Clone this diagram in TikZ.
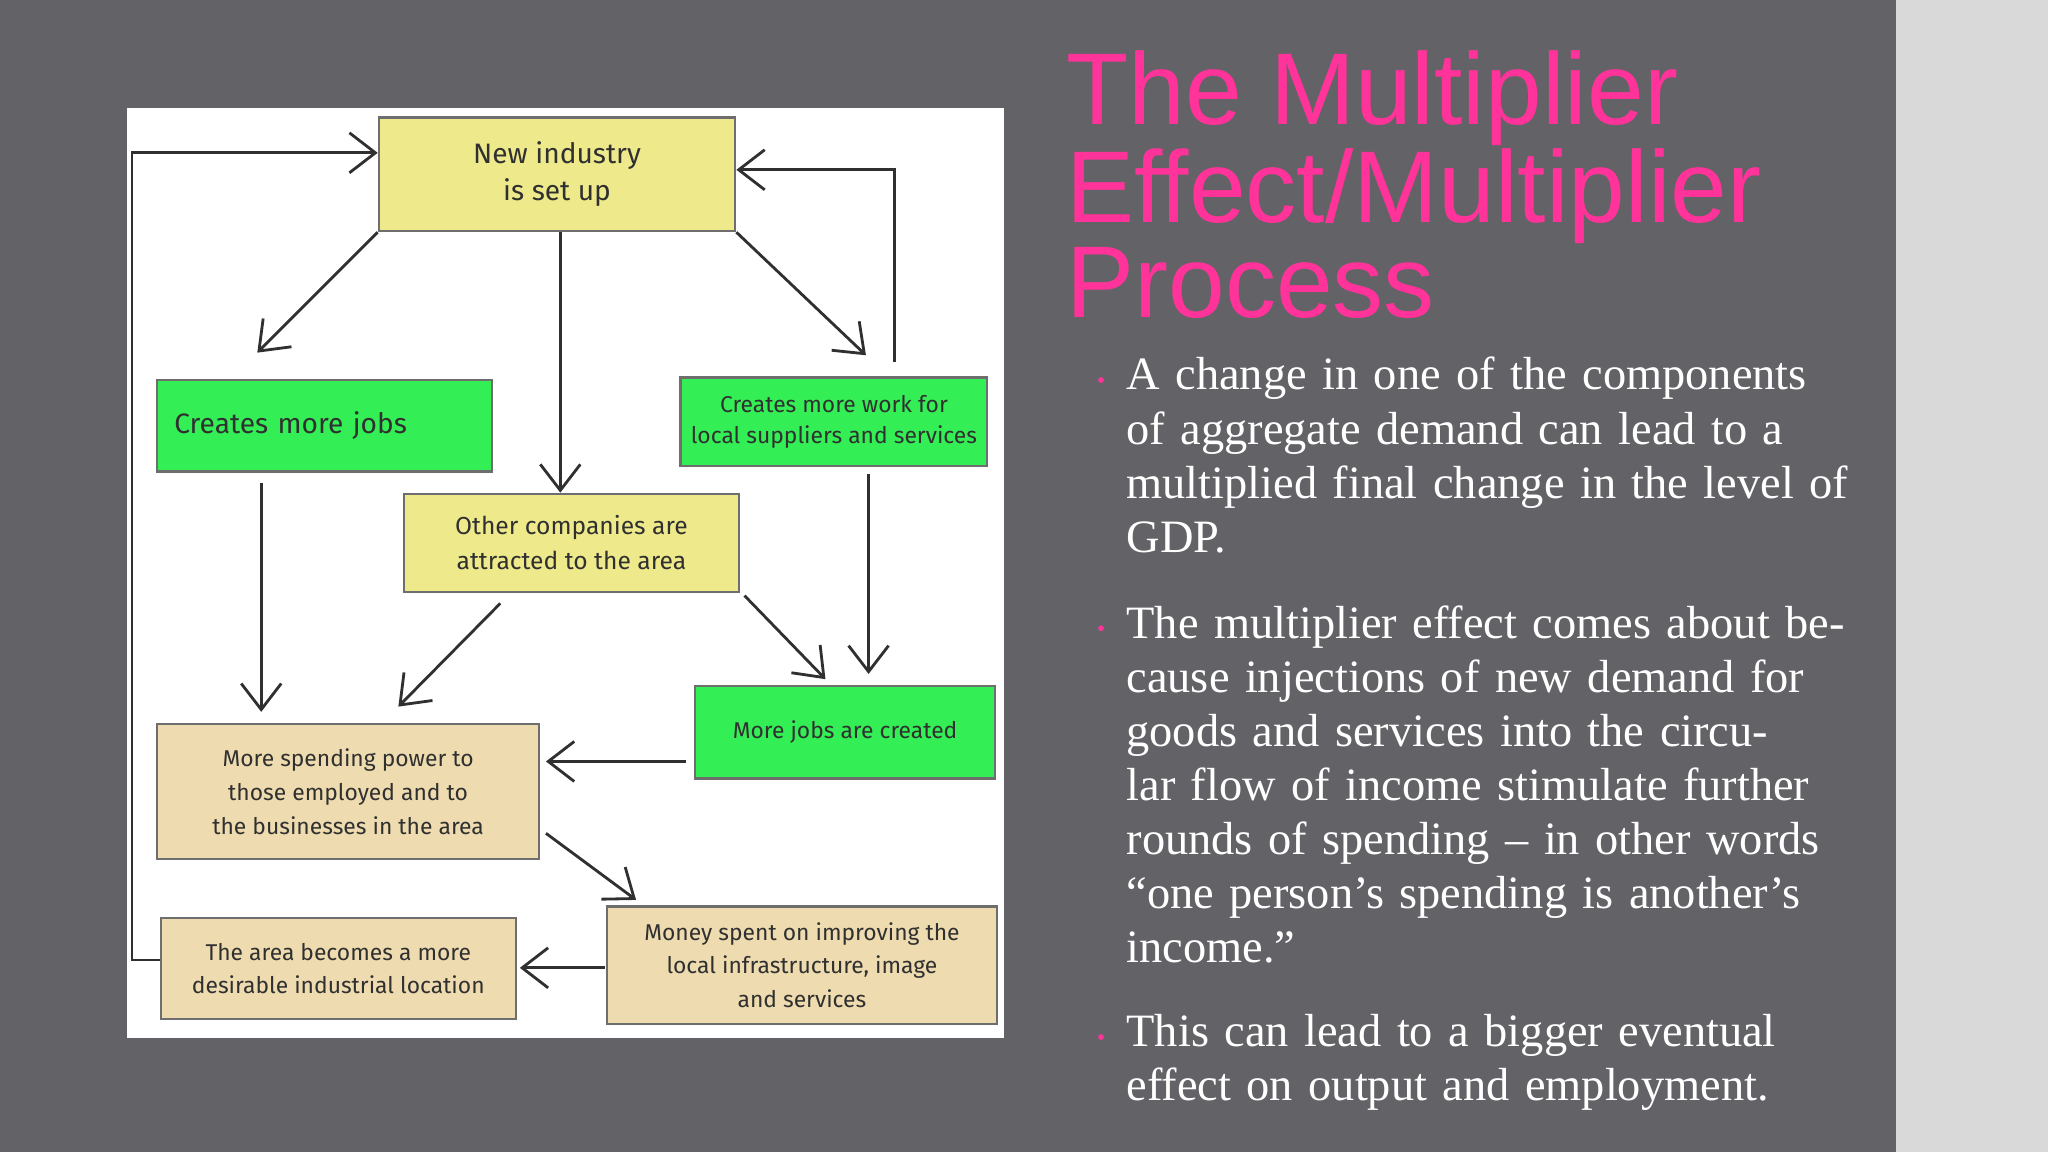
\documentclass[tikz,border=0pt]{standalone}
\usepackage{fontspec}
\setmainfont{Liberation Serif}
\newfontfamily\titlefont{Liberation Sans}
\newfontfamily\boxfont{Fira Sans}
\usetikzlibrary{arrows.meta}
\definecolor{bg}{HTML}{636266}
\definecolor{strip}{HTML}{D9D9D9}
\definecolor{pink}{HTML}{FF3399}
\definecolor{yel}{HTML}{EEEA8C}
\definecolor{grn}{HTML}{33EE55}
\definecolor{tan}{HTML}{EEDCB0}
\definecolor{ink}{HTML}{303030}
\tikzset{
  bx/.style={draw=ink!70, line width=0.6pt, inner sep=0pt, align=center, font=\boxfont\fontsize{8}{10.5}\selectfont, text=ink},
  ar/.style={draw=ink, line width=0.8pt, -{Straight Barb[length=2.6mm,width=4mm]}},
}
\begin{document}
\begin{tikzpicture}[x=0.013061cm,y=-0.013061cm]
\useasboundingbox (0,0) rectangle (1568,882);
\fill[bg] (0,0) rectangle (1568,882);
\fill[strip] (1452,0) rectangle (1568,882);
\fill[white] (97,83) rectangle (769,795);
% boxes
\node[bx, fill=yel, minimum width=273*0.013061cm, minimum height=87*0.013061cm] (ni) at (426.5,133.5) {New industry\\is set up};
\node[bx, fill=grn, minimum width=257*0.013061cm, minimum height=70*0.013061cm, text width=230*0.013061cm, align=left] (cj) at (248.5,326) {Creates more jobs};
\node[bx, fill=grn, minimum width=235*0.013061cm, minimum height=68*0.013061cm, font=\boxfont\fontsize{6.5}{9}\selectfont] (cw) at (638.5,323) {Creates more work for\\local suppliers and services};
\node[bx, fill=yel, minimum width=257*0.013061cm, minimum height=75*0.013061cm, font=\boxfont\fontsize{7}{10}\selectfont] (oc) at (437.5,415.5) {Other companies are\\attracted to the area};
\node[bx, fill=grn, minimum width=230*0.013061cm, minimum height=71*0.013061cm, font=\boxfont\fontsize{6.5}{9}\selectfont] (mj) at (647,560.5) {More jobs are created};
\node[bx, fill=tan, minimum width=293*0.013061cm, minimum height=104*0.013061cm, font=\boxfont\fontsize{6.5}{9.6}\selectfont] (ms) at (266.5,606) {More spending power to\\those employed and to\\the businesses in the area};
\node[bx, fill=tan, minimum width=298*0.013061cm, minimum height=90*0.013061cm, font=\boxfont\fontsize{6.5}{9.6}\selectfont] (mo) at (614,739) {Money spent on improving the\\local infrastructure, image\\and services};
\node[bx, fill=tan, minimum width=272*0.013061cm, minimum height=77*0.013061cm, font=\boxfont\fontsize{6.5}{9.6}\selectfont] (ar) at (259,741.5) {The area becomes a more\\desirable industrial location};
% arrows
\coordinate (a1) at (197,270);
\draw[ar] (ni.south west) -- (a1);
\draw[ar] (ni.south -| 429,0) -- (oc.north -| 429,0);
\coordinate (a3) at (663,272);
\draw[ar] (ni.south east) -- (a3);
\coordinate (b1) at (685,277);
\draw[ar] (b1) -- (685,130) -- (ni.east |- 0,130);
\coordinate (c1) at (200,370); \coordinate (c2) at (200,545);
\draw[ar] (c1) -- (c2);
\coordinate (d1) at (383,462); \coordinate (d2) at (305,541);
\draw[ar] (d1) -- (d2);
\coordinate (e1) at (570,456); \coordinate (e2) at (632,520);
\draw[ar] (e1) -- (e2);
\coordinate (f1) at (665,363); \coordinate (f2) at (665,516);
\draw[ar] (f1) -- (f2);
\coordinate (g1) at (525,583); \coordinate (g2) at (418,583);
\draw[ar] (g1) -- (g2);
\coordinate (h1) at (418,638); \coordinate (h2) at (487,689);
\draw[ar] (h1) -- (h2);
\coordinate (i1) at (463,741); \coordinate (i2) at (398,741);
\draw[ar] (i1) -- (i2);
\draw[ar] (ar.west |- 0,735) -- (101,735) -- (101,117) -- (ni.west |- 0,117);
% title
\node[anchor=north west, inner sep=0pt, text=pink, align=left, font=\titlefont\fontsize{29}{25}\selectfont] (title) at (816,38) {The Multiplier\\Effect/Multiplier\\Process};
% bullets
\tikzset{bl/.style={anchor=north west, inner sep=0pt, text=white, align=left, text width=560*0.013061cm, font=\fontsize{13.2}{15.4}\selectfont}}
\node[bl] (t1) at (862,273) {A change in one of the components of aggregate demand can lead to a multiplied final change in the level of GDP.};
\node[bl] (t2) at (862,463) {The multiplier effect comes about because injections of new demand for goods and services into the circular flow of income stimulate further rounds of spending -- in other words “one person’s spending is another’s income.”};
\node[bl] (t3) at (862,776) {This can lead to a bigger eventual effect on output and employment.};
\foreach \y in {291,481,794} \fill[pink] (843,\y) circle (2.2);
\end{tikzpicture}
\end{document}
